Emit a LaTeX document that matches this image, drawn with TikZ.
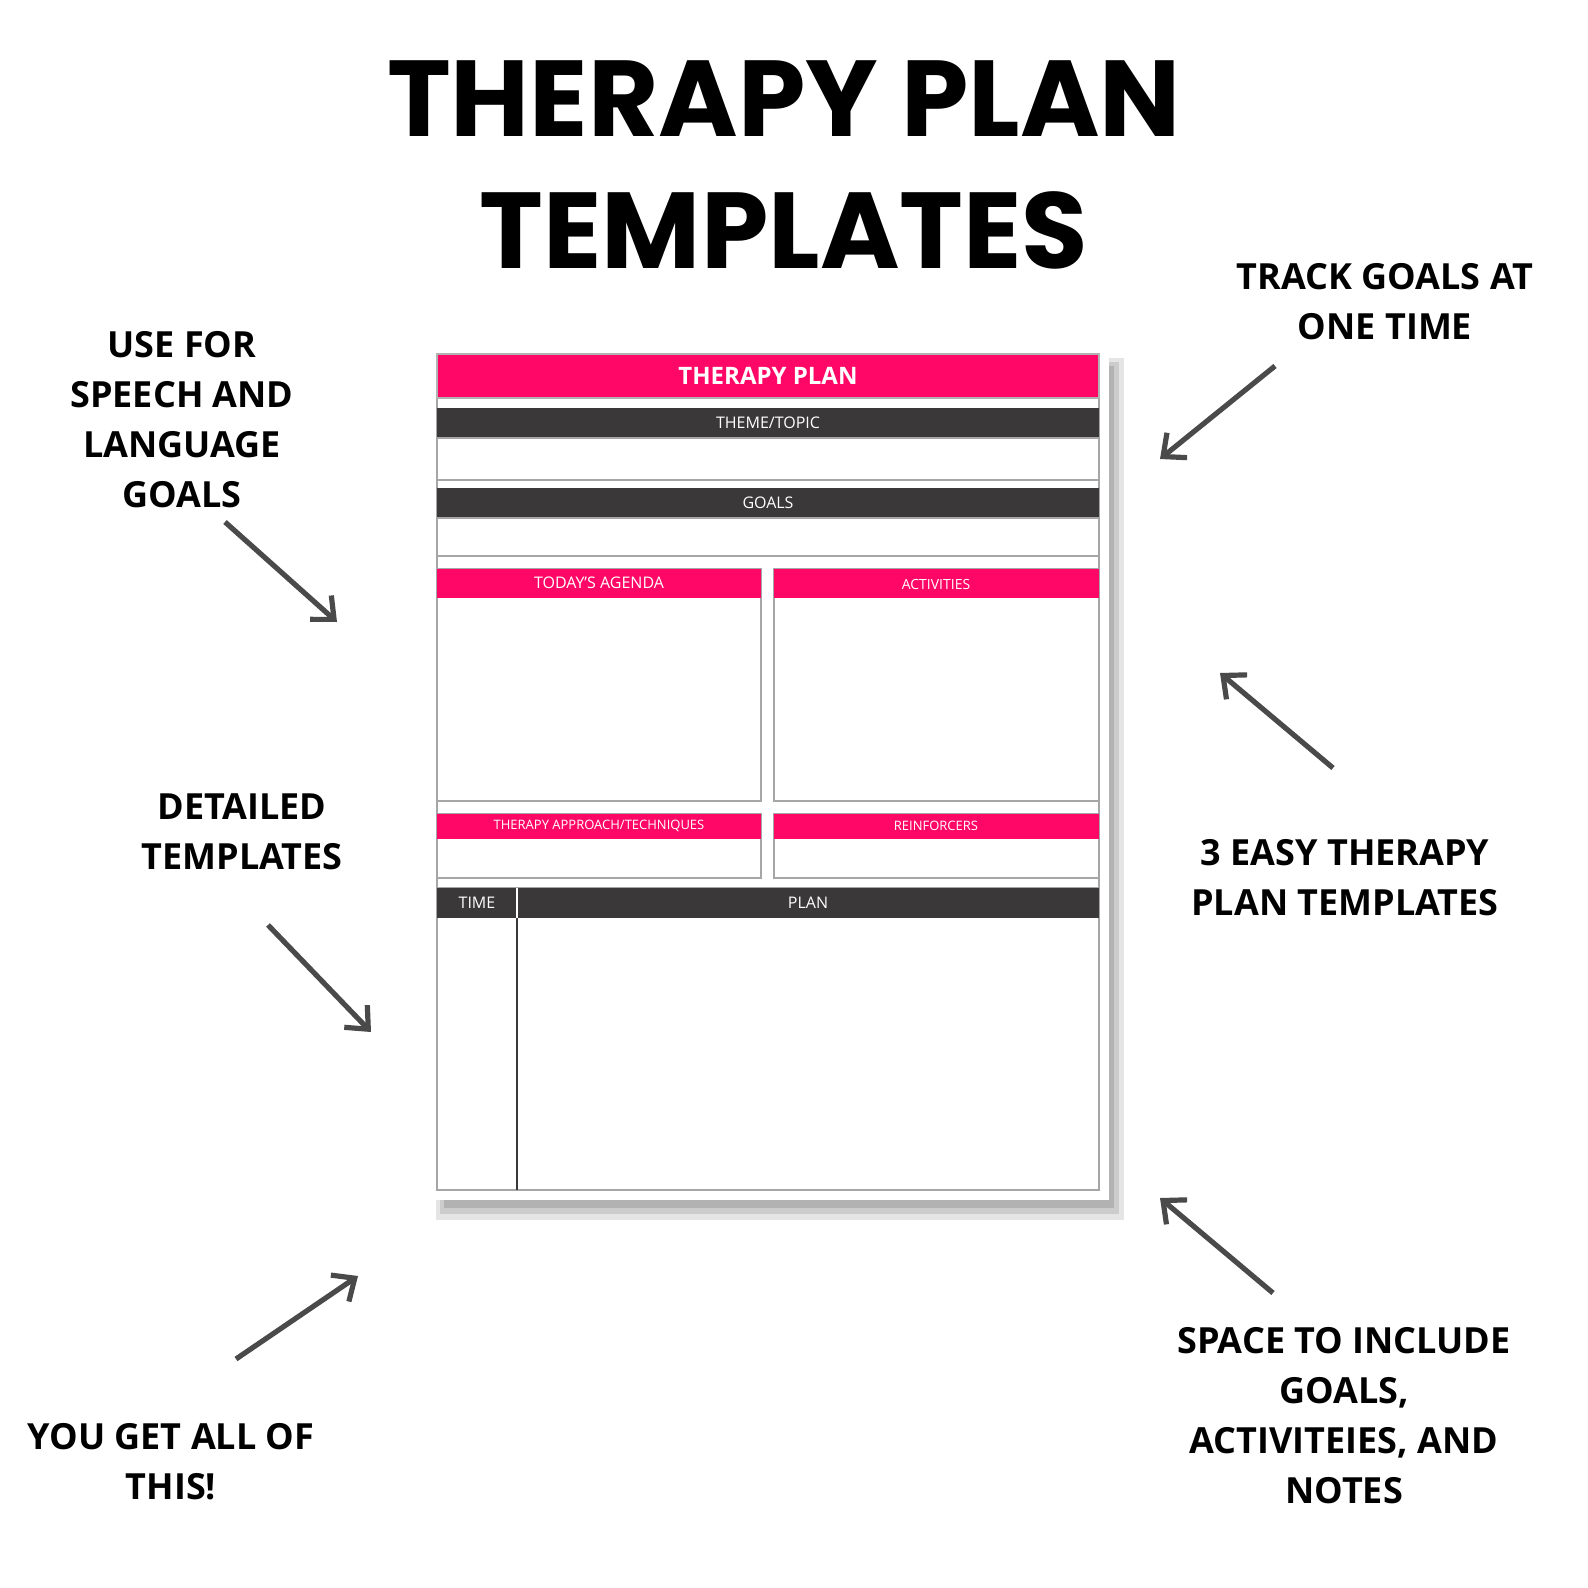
\documentclass[tikz,border=0pt]{standalone}
\usepackage{fontspec}
\setmainfont{Open Sans}
\newfontfamily\titlefont{Poppins}
\usetikzlibrary{arrows.meta}
\definecolor{pk}{HTML}{FF0766}
\definecolor{dk}{HTML}{3A3839}
\definecolor{ar}{HTML}{4A4A4A}
\tikzset{
 lbl/.style={align=center,font=\fontsize{18}{25}\selectfont\bfseries,text=black},
 arw/.style={draw=ar,line width=2.6pt,-{Straight Barb[length=9pt,width=16pt,line width=2.6pt]}},
 pbar/.style={fill=pk,draw=gray!60,line width=0.6pt},
 box/.style={draw=gray!70,line width=0.8pt,fill=white},
 bt/.style={text=white,font=\fontsize{8}{8}\selectfont}
}
\begin{document}
\begin{tikzpicture}[x=0.5pt,y=-0.5pt]
\useasboundingbox (0,0) rectangle (1588,1588);
\fill[white] (0,0) rectangle (1588,1588);
\node[font=\titlefont\fontsize{54}{66}\selectfont\bfseries,align=center] (title) at (784,165) {THERAPY PLAN\\TEMPLATES};
% page with shadow
\fill[gray!20] (436,358) rectangle (1124,1220);
\fill[gray!40] (440,362) rectangle (1119,1214);
\fill[gray!60] (444,366) rectangle (1114,1208);
\fill[white] (426,342) rectangle (1109,1200);
\draw[box] (437,354) rectangle (1099,1190);
\draw[pbar] (437,354) rectangle (1099,398);
\node[text=white,font=\fontsize{12}{12}\selectfont\bfseries] (tp) at (768,376) {THERAPY PLAN};
\fill[dk] (437,408) rectangle (1099,438);
\node[bt] (tt) at (768,423) {THEME/TOPIC};
\draw[box] (437,438) rectangle (1099,480);
\fill[dk] (437,488) rectangle (1099,518);
\node[bt] (gl) at (768,503) {GOALS};
\draw[box] (437,518) rectangle (1099,556);
\draw[box] (437,569) rectangle (761,801);
\draw[box] (774,569) rectangle (1099,801);
\fill[pk] (437,569) rectangle (761,598);
\fill[pk] (774,569) rectangle (1099,598);
\node[bt] (ag) at (599,583) {TODAY'S AGENDA};
\node[bt,font=\fontsize{7}{7}\selectfont] (ac) at (936,584) {ACTIVITIES};
\draw[box] (437,814) rectangle (761,878);
\draw[box] (774,814) rectangle (1099,878);
\fill[pk] (437,814) rectangle (761,839);
\fill[pk] (774,814) rectangle (1099,839);
\node[bt,font=\fontsize{6.5}{7}\selectfont] (ap) at (599,826) {THERAPY APPROACH/TECHNIQUES};
\node[bt,font=\fontsize{6.5}{7}\selectfont] (rf) at (936,826) {REINFORCERS};
\draw[box] (437,888) rectangle (1099,1190);
\fill[dk] (437,888) rectangle (1099,918);
\draw[dk,line width=1pt] (517,888) -- (517,1190);
\draw[white,line width=0.8pt] (517,888) -- (517,918);
\node[bt] (tm) at (477,903) {TIME};
\node[bt] (pl) at (808,903) {PLAN};
% labels
\node[lbl] (l1) at (182,420) {USE FOR\\SPEECH AND\\LANGUAGE\\GOALS};
\node[lbl] (l2) at (1385,302) {TRACK GOALS AT\\ONE TIME};
\node[lbl] (l3) at (242,832) {DETAILED\\TEMPLATES};
\node[lbl] (l4) at (1345,878) {3 EASY THERAPY\\PLAN TEMPLATES};
\node[lbl] (l5) at (171,1462) {YOU GET ALL OF\\THIS!};
\node[lbl] (l6) at (1344,1416) {SPACE TO INCLUDE\\GOALS,\\ACTIVITEIES, AND\\NOTES};
% arrows
\coordinate (a1s) at (225,522); \coordinate (a1e) at (337,622);
\coordinate (a2s) at (1275,366); \coordinate (a2e) at (1160,459);
\coordinate (a3s) at (1333,768); \coordinate (a3e) at (1220,673);
\coordinate (a4s) at (268,925); \coordinate (a4e) at (371,1032);
\coordinate (a5s) at (236,1359); \coordinate (a5e) at (358,1276);
\coordinate (a6s) at (1273,1293); \coordinate (a6e) at (1160,1198);
\foreach \i in {1,...,6} \draw[arw] (a\i s) -- (a\i e);
\end{tikzpicture}
\end{document}
